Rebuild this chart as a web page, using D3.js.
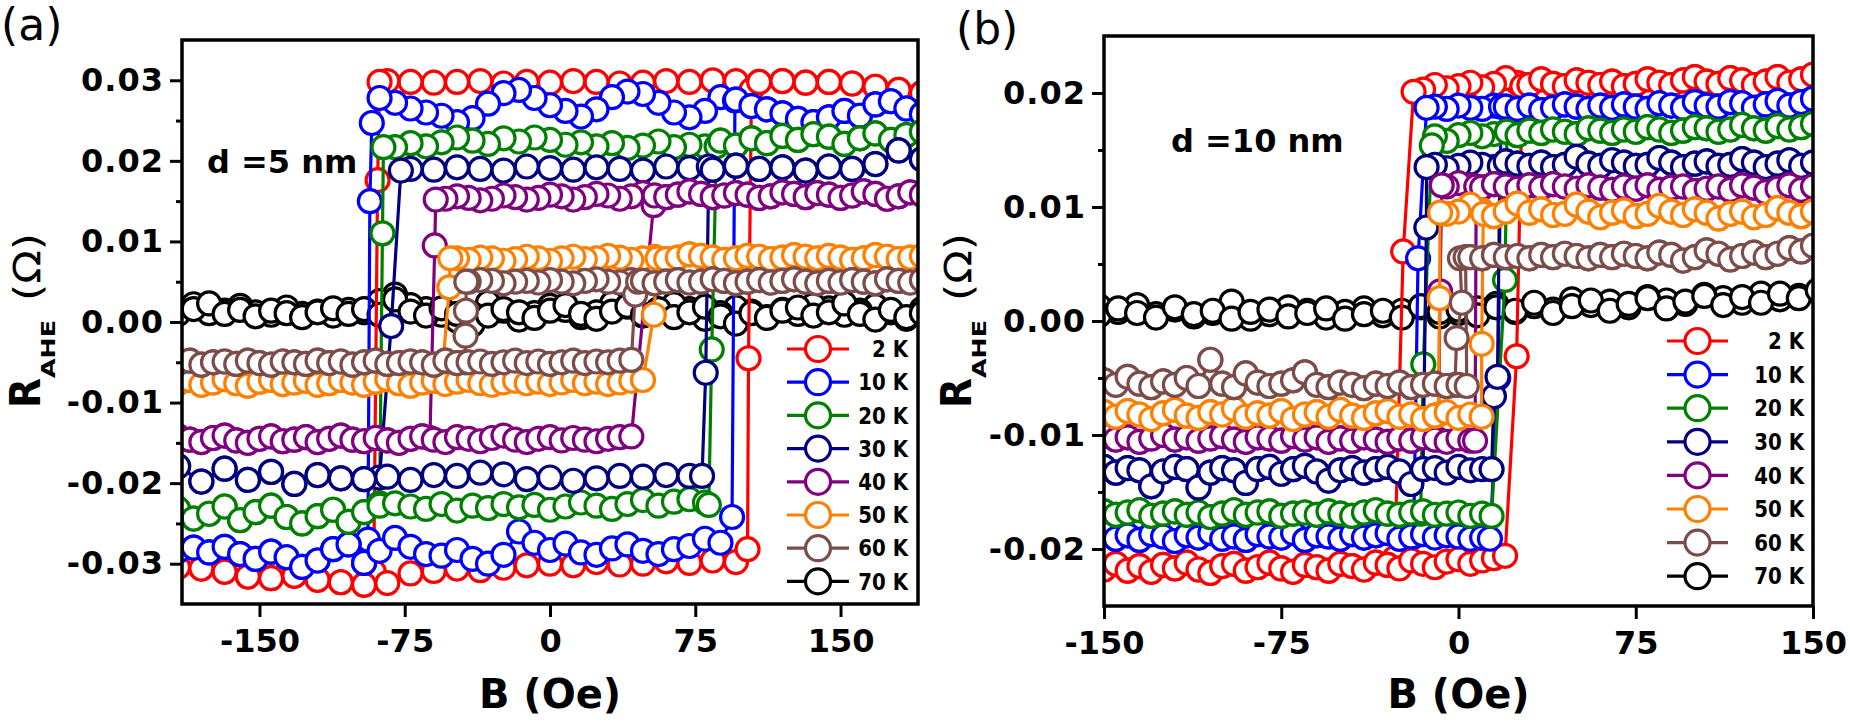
<!DOCTYPE html>
<html>
<head>
<meta charset="utf-8">
<script src="https://cdn.jsdelivr.net/npm/d3@7"></script>
<style>
  body { margin: 0; background: #fff; }
  svg text { font-family: "DejaVu Sans", sans-serif; }
</style>
</head>
<body>
<svg id="fig" width="1850" height="722"></svg>
<script>
// ---- data -------------------------------------------------------------
const temps = ['2 K', '10 K', '20 K', '30 K', '40 K', '50 K', '60 K', '70 K'];
const colors = ['#ff0000', '#0000ff', '#008000', '#000080', '#800080', '#ff8000', '#7b4c49', '#000000'];

// field sweeps (Oe), listed from +B down to -B
const fieldA12 = [192,180,168,156,144,132,120,108,96,84,72,60,48,36,24,12,0,-12,-24,-36,-48,-60,-72,-84,-96,-108,-120,-132,-144,-156,-168,-180,-192];
const fieldA8 = [192,184,176,168,160,152,144,136,128,120,112,104,96,88,80,72,64,56,48,40,32,24,16,8,0,-8,-16,-24,-32,-40,-48,-56,-64,-72,-80,-88,-96,-104,-112,-120,-128,-136,-144,-152,-160,-168,-176,-184,-192];
const fieldA6 = [192,186,180,174,168,162,156,150,144,138,132,126,120,114,108,102,96,90,84,78,72,66,60,54,48,42,36,30,24,18,12,6,0,-6,-12,-18,-24,-30,-36,-42,-48,-54,-60,-66,-72,-78,-84,-90,-96,-102,-108,-114,-120,-126,-132,-138,-144,-150,-156,-162,-168,-174,-180,-186,-192];
const fieldB5 = [150,145,140,135,130,125,120,115,110,105,100,95,90,85,80,75,70,65,60,55,50,45,40,35,30,25,20,15,10,5,0,-5,-10,-15,-20,-25,-30,-35,-40,-45,-50,-55,-60,-65,-70,-75,-80,-85,-90,-95,-100,-105,-110,-115,-120,-125,-130,-135,-140,-145,-150];
const fieldB8 = [152,144,136,128,120,112,104,96,88,80,72,64,56,48,40,32,24,16,8,0,-8,-16,-24,-32,-40,-48,-56,-64,-72,-80,-88,-96,-104,-112,-120,-128,-136,-144,-152];

// R_AHE in milliohm.
// upper rows start at the top of the sweep and run towards -B,
// lower rows start at the bottom of the sweep and run towards +B.
// d = 5 nm
const upperA = [
  [28.4,28.8,29.2,29.6,29.8,29.7,29.9,29.8,29.9,30.0,29.8,29.9,29.7,29.6,29.8,29.9,29.7,29.8,29.6,29.9,29.8,29.7,29.8,29.9],
  [25.8,26.5,27.4,27.0,25.6,26.2,25.4,24.8,25.2,25.9,26.4,26.8,27.6,27.9,26.2,25.4,26.0,27.2,28.3,28.6,27.9,26.4,25.5,26.2,26.9,27.8,28.8,28.4,27.1,25.3,24.8,25.6,26.0,26.5,27.2,27.8],
  [23.6,23.2,22.6,23.4,22.8,22.1,23.0,23.3,22.6,23.1,22.2,22.8,21.9,22.5,21.8,22.0,21.7,22.4,21.9,21.6,22.2,21.8,22.3,22.0,22.6,22.9,22.4,22.8,22.1,22.5,22.9,22.3,21.8,22.2,21.7],
  [20.2,21.3,19.6,19.0,19.3,18.8,19.2,19.0,19.4,18.9,19.1,19.3,18.8,19.0,19.2,18.9,19.1,19.3,18.8,19.0,19.2,18.9,19.0],
  [15.8,16.1,15.6,15.3,15.9,16.2,15.7,15.4,15.8,16.0,15.5,15.9,16.1,15.6,15.4,15.8,16.0,15.7,15.5,15.9,16.2,15.8,15.5,15.7,16.0,15.6,15.3,15.7,15.9,15.5,15.2,15.6,15.8,15.4,15.2,15.5,15.7,15.3,15.1,15.4,15.6,15.3],
  [8.2,8.0,7.8,8.1,8.3,7.9,7.7,8.0,8.2,7.9,8.1,8.3,8.0,7.8,8.1,8.2,7.9,7.7,8.0,8.2,8.4,8.0,7.8,8.1,7.9,7.7,8.0,8.2,7.9,7.8,8.1,7.9,7.6,7.9,8.1,7.8,7.6,7.9,8.0,7.7,7.9],
  [5.2,4.9,5.1,5.3,4.8,5.0,5.2,4.9,5.1,4.8,5.0,5.3,5.1,4.9,5.2,5.0,4.8,5.1,5.3,5.0,4.9,5.2,5.0,4.8,5.1,5.2,4.9,5.0,5.3,5.1,4.8,5.0,5.2,4.9,5.1,5.0,4.8,5.1,5.2,5.0],
  [1.6,0.4,1.2,2.0,1.4,0.9,1.7,2.1,1.0,1.5,0.6,1.3,1.8,1.1,0.4,1.6,2.2,1.4,0.8,1.9,2.3,1.2,0.6,1.5,2.0,1.1,0.3,1.4,2.4,1.0,0.2,0.9,1.6,2.1,3.4,2.6,1.2,1.5,0.8,1.3,1.0,1.8,0.9,1.2,2.0,1.4,1.1,2.2,1.3]
];
const lowerA = [
  [-30.4,-30.6,-31.0,-31.6,-31.8,-31.5,-32.0,-32.3,-32.6,-32.4,-31.2,-30.9,-30.6,-30.8,-30.5,-30.2,-30.0,-30.2,-29.8,-30.1,-30.0,-29.7,-29.9,-29.6,-29.8],
  [-28.4,-28.0,-28.6,-27.9,-28.8,-29.4,-28.5,-29.2,-30.4,-29.6,-28.2,-27.6,-29.9,-28.4,-26.8,-27.9,-28.8,-29.0,-28.3,-29.4,-30.0,-28.9,-26.0,-27.4,-28.3,-27.5,-28.6,-28.9,-28.1,-27.6,-28.4,-28.8,-28.2,-27.8,-26.9,-27.4],
  [-23.2,-24.4,-23.8,-22.9,-24.6,-23.6,-22.8,-24.2,-25.0,-24.1,-23.3,-24.8,-23.6,-22.8,-22.5,-22.9,-23.2,-22.6,-23.4,-22.8,-23.1,-22.6,-23.0,-22.7,-23.3,-22.9,-22.4,-22.8,-23.2,-22.6,-22.1,-22.8,-22.3,-22.0,-22.4],
  [-17.9,-19.8,-18.2,-19.6,-18.6,-20.1,-19.0,-19.4,-19.5,-19.2,-19.6,-19.0,-19.1,-18.7,-18.9,-19.5,-19.3,-19.7,-19.4,-19.1,-19.2,-19.0,-19.1],
  [-14.2,-14.6,-14.9,-14.4,-14.1,-14.7,-15.0,-14.5,-14.2,-14.8,-14.6,-14.3,-14.9,-14.5,-14.1,-14.6,-14.8,-14.4,-14.7,-15.0,-14.5,-14.2,-14.6,-14.9,-14.3,-14.5,-14.8,-14.4,-14.1,-14.6,-14.9,-14.5,-14.3,-14.7,-14.4,-14.6,-14.8,-14.5,-14.3,-14.2],
  [-7.6,-7.2,-7.8,-7.5,-7.1,-7.6,-7.9,-7.4,-7.2,-7.7,-7.5,-7.3,-7.8,-7.6,-7.2,-7.5,-7.8,-7.4,-7.1,-7.6,-7.9,-7.5,-7.3,-7.7,-7.4,-7.2,-7.6,-7.8,-7.5,-7.3,-7.6,-7.4,-7.7,-7.5,-7.2,-7.6,-7.4,-7.7,-7.5,-7.3,-7.2],
  [-5.1,-4.8,-5.3,-5.0,-4.9,-5.2,-4.8,-5.1,-5.3,-4.9,-5.0,-5.2,-4.8,-5.1,-4.9,-5.3,-5.0,-4.8,-5.2,-5.1,-4.9,-5.0,-5.3,-4.8,-5.1,-5.0,-4.9,-5.2,-5.0,-4.8,-5.1,-4.9,-5.2,-5.0,-4.8,-5.1,-4.9,-5.0,-4.8,-4.7],
  [1.0,1.6,2.3,1.0,1.5,0.7,1.4,1.1,0.6,1.2,1.7,1.0,1.6,0.9,2.8,1.3,0.8,1.7,1.0,-0.3,0.8,1.6,1.2,0.5,1.4,2.1,1.0,0.4,1.3,2.0,0.9,1.6,0.6,1.2,1.9,0.7,-0.2,1.1,0.5,1.4,1.8,0.8,1.2,2.3,1.0,0.3,1.5,0.6,1.1]
];
// points on the switching steps, [B (Oe), R (mOhm)], in sweep order
const downStepA = [
  [[-88,29.8],[-89,17.6],[-91,-31.0]],
  [[-92,24.7],[-93,15.0],[-94,-27.0]],
  [[-86,21.7],[-86.5,11.0],[-88,-22.5]],
  [[-77,18.8],[-82,-0.5],[-88,-19.3]],
  [[-59,15.2],[-59.5,9.5],[-62,-14.4]],
  [[-51.5,7.9],[-52,4.3],[-56,-7.4]],
  [[-43.2,5.0],[-43.4,1.4],[-43.6,-1.7],[-43.8,-5.0]],
  []
];
const upStepA = [
  [[102,-28.2],[102.5,-4.5],[104,28.8]],
  [[94,-24.2],[95.5,27.5]],
  [[82,-22.7],[83.5,-3.4],[86,21.8]],
  [[78.5,-19.1],[80.4,-6.3],[82,19.3]],
  [[53.5,14.5]],
  [[53.6,0.9],[55.5,7.9]],
  [[44,3.4],[45.5,5.0]],
  []
];

// d = 10 nm
const upperB = [
  [21.6,21.2,20.9,21.4,21.0,20.7,21.1,21.3,20.8,21.0,21.4,21.1,20.7,20.9,21.2,20.8,20.6,21.0,20.7,20.9,21.1,20.6,20.8,21.2,20.7,20.9,21.3,20.8,20.5,20.9,20.6,20.4,20.7,20.3],
  [19.5,19.2,18.9,19.3,19.0,18.7,19.1,19.2,18.8,18.9,19.2,18.7,18.9,19.1,18.6,18.8,19.0,18.7,18.9,18.6,18.8,19.0,18.7,18.5,18.9,18.6,18.8,18.9,18.6,18.7,18.9,18.6,18.8],
  [17.3,17.0,16.8,17.1,16.7,16.9,17.2,16.8,16.6,16.9,17.0,16.7,16.5,16.8,17.0,16.6,16.8,16.5,16.7,16.9,16.4,16.6,16.8,16.5,16.7,16.3,16.6,16.4,16.2,16.5,16.3,15.8,16.2],
  [13.9,13.6,14.1,13.8,13.5,13.9,14.2,13.7,13.6,14.0,13.8,13.5,13.9,14.3,13.7,13.6,13.9,14.1,13.6,13.8,14.4,13.7,13.5,13.9,13.6,13.8,14.0,13.5,13.7,13.9,13.6,13.4,13.7],
  [11.8,11.5,11.9,11.6,11.3,11.7,11.9,11.5,11.8,11.6,11.4,11.8,11.7,11.5,11.9,11.6,11.8,11.5,11.7,11.9,11.6,11.8,12.0,11.7,11.9,11.6,11.8,12.0,11.7,11.9,12.1,11.8],
  [9.6,9.2,9.5,9.9,9.3,9.1,9.6,9.4,9.0,9.5,9.8,9.3,9.6,10.1,9.4,9.2,9.7,9.5,9.1,9.6,10.2,9.4,9.3,9.8,9.5,10.3,9.6,9.2,9.7,10.2,9.6,9.4],
  [6.6,6.1,6.4,5.9,5.6,6.0,5.7,5.4,5.9,6.2,5.6,5.3,5.8,6.0,5.5,5.7,5.9,5.6,5.8,5.5,5.7,5.9,5.6,5.8,5.5,5.7,5.6,5.8,5.5,5.6],
  [2.6,2.2,1.9,2.4,1.6,2.0,2.3,1.5,1.8,2.1,1.2,1.7,1.4,1.9,1.0,1.3,0.8,1.5,1.1,0.7,0.4,1.2,0.9,0.5,1.1,0.8,0.3,0.9,1.2,0.6,0.2,1.7,0.7,0.4,1.0,0.6,1.4,0.8,1.3]
];
const lowerB = [
  [-21.8,-21.3,-21.9,-21.5,-22.0,-21.4,-21.7,-21.2,-21.8,-22.1,-21.5,-21.3,-21.9,-21.6,-21.2,-21.7,-22.0,-21.4,-21.6,-21.9,-21.3,-21.5,-21.8,-21.2,-21.4,-21.7,-21.0,-21.3,-21.6,-21.1,-20.9,-21.3,-21.0,-20.8],
  [-18.6,-19.1,-18.8,-19.2,-18.7,-18.9,-19.3,-18.8,-19.0,-18.6,-19.1,-18.9,-19.2,-18.7,-18.9,-19.0,-18.6,-19.2,-18.8,-18.9,-19.1,-18.7,-19.0,-18.8,-18.6,-19.1,-18.9,-18.7,-19.0,-18.8,-18.9,-19.1,-19.0],
  [-16.7,-17.0,-16.8,-16.6,-17.1,-16.9,-16.7,-17.0,-16.8,-17.2,-16.9,-16.6,-17.0,-16.8,-16.7,-17.1,-16.9,-16.8,-17.0,-16.7,-16.9,-17.1,-16.8,-16.6,-16.9,-17.0,-16.8,-16.7,-17.0,-16.9,-16.8,-17.1,-16.9],
  [-12.8,-13.3,-12.9,-13.1,-14.5,-13.2,-12.8,-13.0,-14.6,-13.3,-12.9,-13.1,-14.2,-13.0,-12.8,-13.4,-13.0,-12.7,-13.2,-14.0,-13.1,-12.9,-13.3,-13.0,-12.8,-13.2,-14.3,-13.0,-12.9,-13.3,-12.8,-13.1,-13.0],
  [-10.1,-10.4,-10.2,-10.6,-10.3,-10.0,-10.4,-10.2,-10.5,-10.3,-10.1,-10.4,-10.6,-10.2,-10.3,-10.5,-10.1,-10.4,-10.2,-10.6,-10.3,-10.5,-10.2,-10.4,-10.6,-10.3,-10.5,-10.2,-10.4,-10.6,-10.3,-10.5],
  [-8.0,-8.4,-7.9,-8.2,-8.6,-8.1,-7.8,-8.3,-8.5,-8.0,-8.2,-7.7,-8.4,-8.1,-8.3,-7.9,-8.6,-8.2,-8.0,-8.4,-7.8,-8.3,-8.5,-8.1,-7.9,-8.4,-8.2,-8.6,-8.3,-8.0,-8.5,-8.2],
  [-5.2,-5.6,-4.9,-5.5,-5.8,-5.3,-5.6,-5.0,-5.7,-3.4,-5.5,-5.8,-4.6,-5.4,-5.7,-5.5,-5.2,-4.5,-5.6,-5.8,-5.4,-5.6,-5.9,-5.5,-5.7,-5.4,-5.8,-5.6,-5.5,-5.7,-5.6],
  [0.5,1.1,0.7,0.3,1.2,0.6,0.9,0.2,0.8,1.0,0.4,0.7,1.1,0.2,0.6,0.9,0.3,1.3,0.8,1.0,0.5,1.2,0.9,1.6,0.7,1.3,1.8,0.9,1.5,2.0,1.1,1.7,2.2,1.4,2.1,1.6,2.4,2.0,2.7]
];
const downStepB = [
  [[-19,20.1],[-23.4,6.1],[-27,-20.8]],
  [[-13.5,18.7],[-17.1,5.5],[-19,-18.9]],
  [[-11.3,15.4],[-14.9,-3.8],[-16,-16.9]],
  [[-13.5,13.5],[-13.6,8.2],[-15,-13.0]],
  [[-7.1,11.9],[-7.8,2.6],[-8.5,-10.4]],
  [[-7.8,9.5],[-8,2.0],[-8.5,-8.2]],
  [[0.6,5.5],[1.4,1.6],[-0.8,-1.5],[-1.5,-5.6]],
  []
];
const upStepB = [
  [[19.7,-20.6],[24.6,-3.1],[27,20.6]],
  [[13.3,-19.1],[16.8,-5.0],[18,18.8]],
  [[14,-17.1],[19.7,3.6],[20.5,16.6]],
  [[14,-13.0],[15,-6.6],[16.5,-4.9],[17.5,13.6]],
  [[7.0,-10.5],[7.5,11.8]],
  [[9.8,-8.4],[9.8,-2.0],[10.5,9.4]],
  [[3.5,-5.7],[3.0,5.6]],
  []
];

// ---- drawing ----------------------------------------------------------
const svg = d3.select('#fig');
svg.append('rect').attr('width', 1850).attr('height', 722).attr('fill', '#fff');

const drawOrder = [7, 0, 1, 2, 3, 4, 5, 6];

// builds the two sweep branches of one loop
function branches(field, upper, lower, dStep, uStep) {
  const n = field.length;
  const up = upper.map((r, i) => [field[i], r]);
  const lo = lower.map((r, i) => [field[n - 1 - i], r]);
  if (!dStep.length) return [up, lo];
  const d0 = dStep[0][0], d1 = dStep[dStep.length - 1][0];
  const u0 = uStep[0][0], u1 = uStep[uStep.length - 1][0];
  const down = up.filter(p => p[0] > d0)
    .concat(dStep, lo.filter(p => p[0] < d1).reverse());
  const rise = lo.filter(p => p[0] < u0)
    .concat(uStep, up.filter(p => p[0] > u1).reverse());
  return [down, rise];
}

function panel(cfg) {
  const x = d3.scaleLinear().domain(cfg.xDomain).range([cfg.left, cfg.right]);
  const y = d3.scaleLinear().domain(cfg.yDomain).range([cfg.bottom, cfg.top]);
  const g = svg.append('g');

  svg.append('clipPath').attr('id', 'clip-' + cfg.id)
    .append('rect')
    .attr('x', cfg.left).attr('y', cfg.top)
    .attr('width', cfg.right - cfg.left).attr('height', cfg.bottom - cfg.top);

  const plot = g.append('g').attr('clip-path', `url(#clip-${cfg.id})`);
  const line = d3.line().x(p => x(p[0])).y(p => y(p[1] / 1000));

  drawOrder.forEach(k => {
    const [down, rise] = branches(cfg.fields[k], cfg.upper[k], cfg.lower[k], cfg.downStep[k], cfg.upStep[k]);
    const s = plot.append('g');
    [down, rise].forEach(b => {
      s.append('path')
        .attr('d', line(b))
        .attr('fill', 'none')
        .attr('stroke', colors[k])
        .attr('stroke-width', 3.2)
        .attr('stroke-linejoin', 'round');
    });
    s.selectAll('circle')
      .data(down.concat(rise))
      .join('circle')
      .attr('cx', p => x(p[0]))
      .attr('cy', p => y(p[1] / 1000))
      .attr('r', 11.5)
      .attr('fill', '#fff')
      .attr('stroke', colors[k])
      .attr('stroke-width', 3.2);
  });

  // axes
  const styleAxis = a => {
    a.select('.domain').remove();
    a.selectAll('line').attr('stroke', '#000').attr('stroke-width', 3);
    a.attr('font-family', '"DejaVu Sans", sans-serif').attr('font-weight', 'bold').attr('font-size', 32);
    a.selectAll('text').attr('fill', '#000');
  };

  g.append('g')
    .attr('transform', `translate(${cfg.left},0)`)
    .call(d3.axisLeft(y).tickValues(cfg.yTicks).tickSize(12).tickPadding(6).tickFormat(d => d.toFixed(2)))
    .call(styleAxis)
    .selectAll('text').attr('letter-spacing', 1);

  g.append('g')
    .attr('transform', `translate(${cfg.left},0)`)
    .call(d3.axisLeft(y).tickValues(cfg.yMinor).tickSize(6).tickFormat(''))
    .call(styleAxis);

  g.append('g')
    .attr('transform', `translate(0,${cfg.bottom})`)
    .call(d3.axisBottom(x).tickValues(cfg.xTicks).tickSize(13).tickPadding(12).tickFormat(d => String(d)))
    .call(styleAxis);

  g.append('rect')
    .attr('x', cfg.left).attr('y', cfg.top)
    .attr('width', cfg.right - cfg.left).attr('height', cfg.bottom - cfg.top)
    .attr('fill', 'none').attr('stroke', '#000').attr('stroke-width', 3.5);

  // legend
  const leg = g.append('g');
  temps.forEach((t, i) => {
    const ly = cfg.legY + i * cfg.legStep;
    leg.append('line')
      .attr('x1', cfg.legX0).attr('x2', cfg.legX1).attr('y1', ly).attr('y2', ly)
      .attr('stroke', colors[i]).attr('stroke-width', 3.2);
    leg.append('circle')
      .attr('cx', (cfg.legX0 + cfg.legX1) / 2).attr('cy', ly).attr('r', 12.5)
      .attr('fill', '#fff').attr('stroke', colors[i]).attr('stroke-width', 3.2);
    const tx = leg.append('text')
      .attr('x', cfg.legText).attr('y', ly).attr('dy', '0.36em')
      .attr('text-anchor', 'end')
      .attr('font-weight', 'bold').attr('font-size', 23)
      .text(t);
    const w = tx.node().getComputedTextLength();
    tx.attr('textLength', w * 0.86).attr('lengthAdjust', 'spacingAndGlyphs');
  });

  // labels
  g.append('text')
    .attr('x', cfg.tagX).attr('y', cfg.tagY)
    .attr('font-size', 44)
    .text(cfg.tag);

  g.append('text')
    .attr('x', cfg.noteX).attr('y', cfg.noteY)
    .attr('font-size', 32).attr('font-weight', 'bold')
    .text(cfg.note);

  g.append('text')
    .attr('x', (cfg.left + cfg.right) / 2).attr('y', 708)
    .attr('text-anchor', 'middle')
    .attr('font-size', 40).attr('font-weight', 'bold')
    .text('B (Oe)');

  const yt = cfg.titleX;
  g.append('text')
    .attr('transform', `translate(${yt},408) rotate(-90)`)
    .attr('font-size', 42).attr('font-weight', 'bold')
    .attr('textLength', 30).attr('lengthAdjust', 'spacingAndGlyphs')
    .text('R');
  g.append('text')
    .attr('transform', `translate(${yt + 15},378) rotate(-90)`)
    .attr('font-size', 19).attr('font-weight', 'bold')
    .attr('textLength', 58).attr('lengthAdjust', 'spacingAndGlyphs')
    .text('AHE');
  g.append('text')
    .attr('transform', `translate(${yt},301) rotate(-90)`)
    .attr('font-size', 38)
    .attr('textLength', 68).attr('lengthAdjust', 'spacingAndGlyphs')
    .text('(Ω)');
}

panel({
  id: 'a', tag: '(a)', tagX: 1, tagY: 40,
  note: 'd =5 nm', noteX: 207, noteY: 173,
  left: 182, right: 918, top: 40, bottom: 604,
  xDomain: [-190, 190], yDomain: [-0.035, 0.035],
  xTicks: [-150, -75, 0, 75, 150],
  yTicks: [-0.03, -0.02, -0.01, 0, 0.01, 0.02, 0.03],
  yMinor: [-0.025, -0.015, -0.005, 0.005, 0.015, 0.025],
  fields: [fieldA12, fieldA8, fieldA8, fieldA12, fieldA6, fieldA6, fieldA6, fieldA8],
  upper: upperA, lower: lowerA, downStep: downStepA, upStep: upStepA,
  legY: 349, legStep: 33.2, legX0: 787, legX1: 849, legText: 908,
  titleX: 40
});

panel({
  id: 'b', tag: '(b)', tagX: 956, tagY: 44,
  note: 'd =10 nm', noteX: 1171, noteY: 152,
  left: 1104, right: 1813, top: 36, bottom: 606,
  xDomain: [-150, 150], yDomain: [-0.025, 0.025],
  xTicks: [-150, -75, 0, 75, 150],
  yTicks: [-0.02, -0.01, 0, 0.01, 0.02],
  yMinor: [-0.015, -0.005, 0.005, 0.015],
  fields: [fieldB5, fieldB5, fieldB5, fieldB5, fieldB5, fieldB5, fieldB5, fieldB8],
  upper: upperB, lower: lowerB, downStep: downStepB, upStep: upStepB,
  legY: 341, legStep: 33.6, legX0: 1667, legX1: 1728, legText: 1804,
  titleX: 971
});
</script>
</body>
</html>
